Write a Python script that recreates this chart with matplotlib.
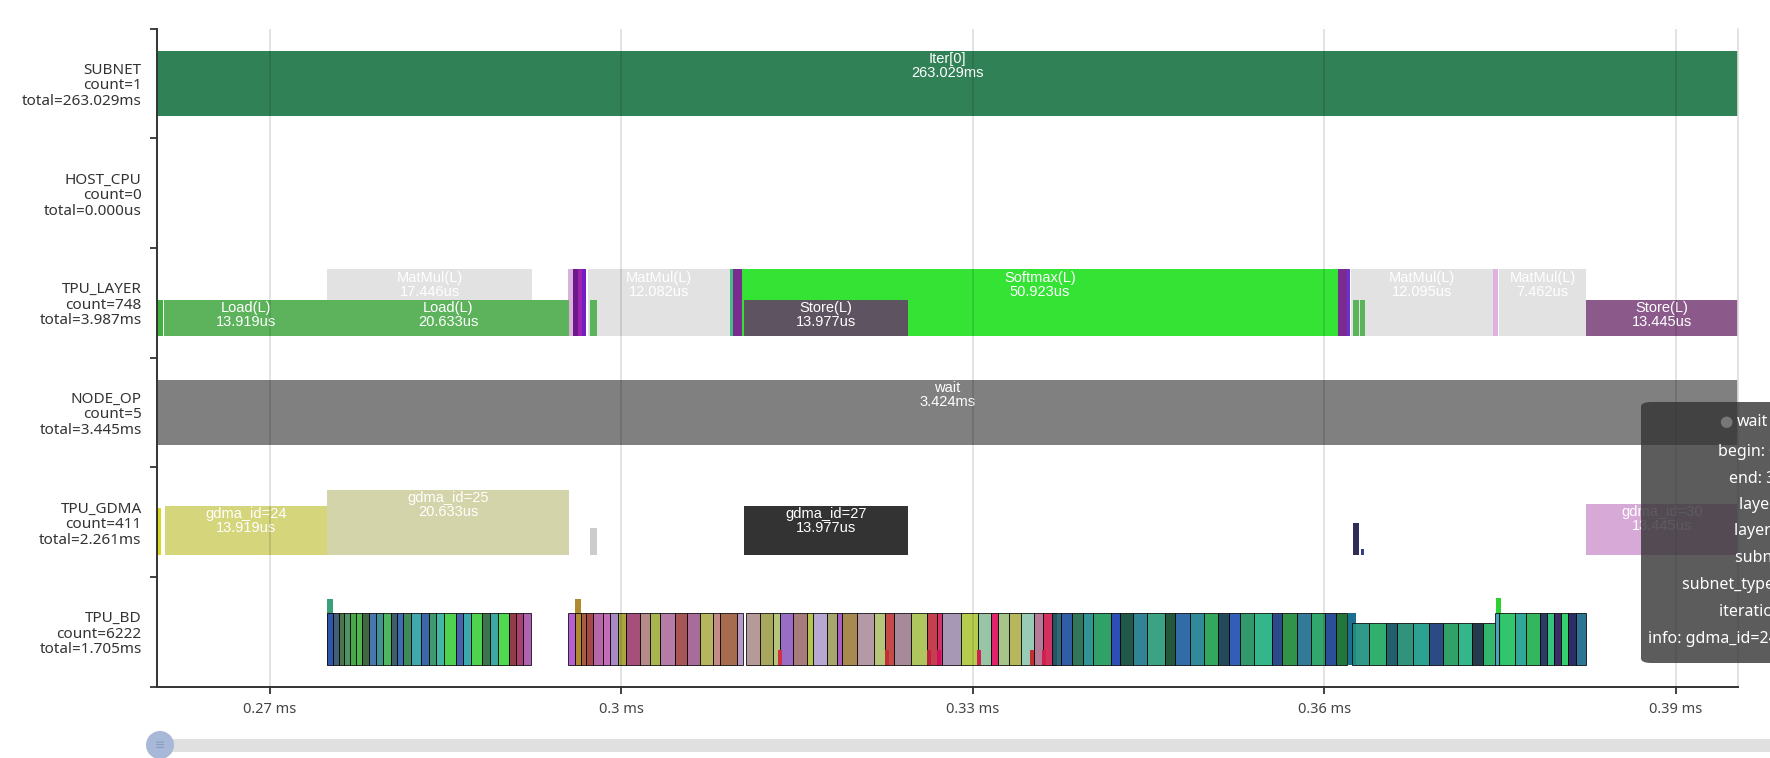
import matplotlib
matplotlib.use("Agg")
import matplotlib.pyplot as plt
from matplotlib.patches import Rectangle, FancyBboxPatch, Ellipse

# rows, top to bottom
rows = ["SUBNET", "HOST_CPU", "TPU_LAYER", "NODE_OP", "TPU_GDMA", "TPU_BD"]
row_counts = [1, 0, 748, 5, 411, 6222]
row_totals = ["263.029ms", "0.000us", "3.987ms", "3.445ms", "2.261ms", "1.705ms"]

x_ticks = [0.27, 0.30, 0.33, 0.36, 0.39]
x_tick_labels = ["0.27 ms", "0.3 ms", "0.33 ms", "0.36 ms", "0.39 ms"]
x_range = [0.26036, 0.39529]

# SUBNET (durations in ms)
subnet_start = [0.0]
subnet_dur_ms = [263.029]
subnet_name = ["Iter[0]"]

# NODE_OP
node_start = [0.12]
node_dur_ms = [3.424]
node_name = ["wait"]

# TPU_LAYER (durations in us), tall ones first then short ones
layer_start = [0.27491, 0.29543, 0.29590, 0.29630, 0.29665, 0.29716, 0.30930, 0.30950,
               0.31026, 0.36118, 0.36193, 0.36227, 0.37440, 0.37488,
               0.26000, 0.26099, 0.27491, 0.29735, 0.31045, 0.36246, 0.36300, 0.38230]
layer_dur_us = [17.446, 0.45, 0.35, 0.3, 0.35, 12.082, 0.2, 0.75,
                50.923, 0.75, 0.25, 12.095, 0.4, 7.462,
                0.9, 13.919, 20.633, 0.6, 13.977, 0.45, 0.5, 13.445]
layer_name = ["MatMul(L)", "", "", "", "", "MatMul(L)", "", "",
              "Softmax(L)", "", "", "MatMul(L)", "", "MatMul(L)",
              "", "Load(L)", "Load(L)", "", "Store(L)", "", "", "Store(L)"]
layer_color = ["#e2e2e2", "#dcb0dc", "#6a1b8a", "#a020b0", "#7020c0", "#e2e2e2", "#40c080", "#7b2a8f",
               "#35e335", "#7b2a8f", "#6a30d0", "#e2e2e2", "#e0b0e0", "#e2e2e2",
               "#40b040", "#5cb35c", "#5cb35c", "#5cb35c", "#5e5360", "#5cb35c", "#5cb35c", "#8b5a8b"]
layer_top = [0.195] * 14 + [0.47] * 8

# TPU_GDMA
gdma_start = [0.26030, 0.26102, 0.27491, 0.29735, 0.31045, 0.36246, 0.36310, 0.38232]
gdma_dur_us = [0.4, 13.919, 20.633, 0.55, 13.977, 0.5, 0.3, 13.445]
gdma_name = ["", "gdma_id=24", "gdma_id=25", "", "gdma_id=27", "", "", "gdma_id=30"]
gdma_color = ["#d8d820", "#d5d57c", "#d4d4aa", "#cccccc", "#333333", "#2e2e58", "#3a3a8a", "#d7a9d7"]
gdma_top = [0.37, 0.353, 0.207, 0.554, 0.35, 0.505, 0.74, 0.335]

# TPU_BD: clusters of stripes
bd_cluster_start = [0.27486, 0.29543, 0.31060, 0.33678, 0.36239, 0.37458]
bd_cluster_top = [0.33, 0.33, 0.33, 0.33, 0.42, 0.33]
bd_stripe_us = [
    [0.5, 0.5, 0.5, 0.5, 0.5, 0.5, 0.6, 0.6, 0.6, 0.7, 0.5, 0.5, 0.7, 0.8, 0.7, 0.6, 0.7, 1.0,
     0.6, 0.7, 0.9, 0.7, 0.7, 0.9, 0.6, 0.6, 0.7],
    [0.57, 0.57, 0.43, 0.57, 0.86, 0.57, 0.71, 0.71, 1.14, 0.86, 0.86, 1.28, 1.0, 1.14, 1.14,
     0.57, 1.43, 0.51],
    [1.23, 1.14, 0.57, 1.14, 1.14, 0.57, 1.14, 0.86, 0.43, 1.28, 1.43, 1.0, 0.71, 1.43, 1.43,
     0.86, 0.43, 1.57, 1.43, 1.14, 0.57, 1.0, 1.0, 1.14, 0.71, 0.86, 0.29],
    [0.76, 0.91, 0.91, 0.91, 1.52, 0.76, 1.07, 1.22, 1.52, 0.91, 1.22, 1.22, 1.22, 0.91, 0.91,
     1.22, 1.52, 0.91, 1.22, 1.22, 1.22, 0.91, 0.98],
    [1.37, 1.52, 0.91, 1.37, 1.37, 1.22, 1.22, 1.22, 0.91, 1.07],
    [0.30, 1.37, 0.91, 1.22, 0.61, 0.61, 0.61, 0.61, 0.61, 0.91],
]
bd_stripe_color = [
    ["#3050b0", "#34506a", "#3a6a3a", "#3f8a5a", "#3aa03a", "#40b040", "#2f5a2f", "#3a6aa8",
     "#2e8a8a", "#3fb050", "#2f4f5f", "#3060b0", "#2e7f4f", "#30a0a8", "#2a5aa0", "#309060",
     "#33b0a0", "#40d040", "#3555a8", "#2aa0a8", "#40d040", "#2a6a3a", "#30a0a0", "#40d840",
     "#8b2a3a", "#a03060", "#a855a8"],
    ["#b050d0", "#b08a30", "#a05030", "#a03838", "#b05aa0", "#c060b0", "#a080c0", "#a0a030",
     "#a04070", "#b08080", "#a0b040", "#b070a0", "#a04848", "#a06090", "#b0b050", "#c08080",
     "#a06040", "#b090c0"],
    ["#b09090", "#a0a050", "#b0c070", "#9060c0", "#a07070", "#b0c040", "#b0a0d0", "#a0a060",
     "#a050c0", "#a08040", "#b090a0", "#b0c070", "#c03a3a", "#a08090", "#a8c050", "#c03040",
     "#d02060", "#a090b0", "#b0c840", "#90c0a0", "#e01060", "#a0c080", "#b0b050", "#90c8b0",
     "#b07090", "#d02050", "#900030"],
    ["#1f5a6a", "#1f4fa0", "#1f6a4a", "#1f8a8a", "#1f9a5a", "#1a40b0", "#0f4a3a", "#1f7a8a",
     "#2a9a7a", "#0f4a2a", "#1f60a0", "#1f8090", "#20a050", "#0f3a4a", "#1f50b0", "#1f9060",
     "#20b080", "#1a3a80", "#1f8a3a", "#1f7090", "#20a060", "#1a4090", "#0f6a2a"],
    ["#1f9080", "#20a860", "#0f5060", "#1f8a70", "#1a9a8a", "#1a3a7a", "#1f9a5a", "#20b080",
     "#102a3a", "#20b060"],
    ["#4aa0d0", "#20c060", "#1fa090", "#20b050", "#1a2a5a", "#20c070", "#2a1a5a", "#20d060",
     "#1a1a5a", "#1a6a8a"],
]
bd_spike_start = [0.27486, 0.29603, 0.36200, 0.37462]
bd_spike_us = [0.5, 0.55, 0.7, 0.45]
bd_spike_color = ["#3aa07a", "#b08a30", "#1a7090", "#30d030"]
bd_spike_top = [0.2, 0.2, 0.33, 0.195]
bd_low_start = [0.31338, 0.32249, 0.32605, 0.32690, 0.33031, 0.33486, 0.33586]
bd_low_color = ["#d03040", "#c03030", "#c02040", "#d01060", "#d02050", "#c03030", "#d02050"]

BOTTOM = 0.8
LABEL_FONT = "Liberation Sans"

fig = plt.figure(figsize=(17.7, 7.58), dpi=100)
ax = fig.add_axes([0.0887, 0.0941, 0.8932, 0.868])


def draw_bar(row, start, dur_ms, top, color, name, extra, z):
    ax.add_patch(Rectangle((start, row + top), dur_ms, BOTTOM - top, facecolor=color,
                           edgecolor="none", zorder=z))
    if name:
        lo = max(start, x_range[0])
        hi = min(start + dur_ms, x_range[1])
        ax.text((lo + hi) / 2, row + top + 0.01, name + "\n" + extra, ha="center", va="top",
                color="white", fontsize=10.5, family=LABEL_FONT, linespacing=1.0,
                zorder=z + 0.005, clip_on=True)


z = 2.0
for s, d, n in zip(subnet_start, subnet_dur_ms, subnet_name):
    draw_bar(0, s, d, 0.2, "#318157", n, "%.3fms" % d, z)
    z += 0.01
for s, d, n in zip(node_start, node_dur_ms, node_name):
    draw_bar(3, s, d, 0.2, "#808080", n, "%.3fms" % d, z)
    z += 0.01
for s, d, n, c, t in zip(layer_start, layer_dur_us, layer_name, layer_color, layer_top):
    draw_bar(2, s, d / 1000, t, c, n, "%.3fus" % d, z)
    z += 0.01
for s, d, n, c, t in zip(gdma_start, gdma_dur_us, gdma_name, gdma_color, gdma_top):
    draw_bar(4, s, d / 1000, t, c, n, "%.3fus" % d, z)
    z += 0.01

# BD stripes
for cs, ct, durs, cols in zip(bd_cluster_start, bd_cluster_top, bd_stripe_us, bd_stripe_color):
    s = cs
    for d, c in zip(durs, cols):
        ax.add_patch(Rectangle((s, 5 + ct), d / 1000, BOTTOM - ct, facecolor=c, alpha=0.92,
                               edgecolor=(0, 0, 0, 0.12), linewidth=0.6, zorder=2))
        s += d / 1000
for s, d, c, t in zip(bd_spike_start, bd_spike_us, bd_spike_color, bd_spike_top):
    ax.add_patch(Rectangle((s, 5 + t), d / 1000, BOTTOM - t, facecolor=c, zorder=1.9))
for s, c in zip(bd_low_start, bd_low_color):
    ax.add_patch(Rectangle((s, 5 + 0.67), 0.00035, BOTTOM - 0.67, facecolor=c, zorder=2.1))

# gridlines on top, semi transparent
for xt in x_ticks:
    ax.axvline(xt, color="black", alpha=0.13, lw=1.2, zorder=5)

ax.set_xlim(x_range)
ax.set_ylim(len(rows), 0)
ax.set_xticks(x_ticks)
ax.set_xticklabels(x_tick_labels, family="Noto Sans", fontsize=10.5, color="#444444")
ax.set_yticks([i + 0.5 for i in range(len(rows))])
ax.set_yticklabels(["%s\ncount=%d\ntotal=%s" % (r, c, t) for r, c, t in zip(rows, row_counts, row_totals)],
                   family="Noto Sans", fontsize=11, color="#333333", linespacing=1.05)
ax.set_yticks(range(len(rows) + 1), minor=True)
ax.tick_params(axis="y", which="major", length=0, pad=11)
ax.tick_params(axis="y", which="minor", length=5, width=1.3, color="#333333")
ax.tick_params(axis="x", length=5, width=1.3, color="#333333", pad=6)
for side in ["left", "bottom"]:
    ax.spines[side].set_color("#333333")
    ax.spines[side].set_linewidth(1.4)
ax.spines["top"].set_visible(False)
ax.spines["right"].set_color("#dddddd")
ax.spines["right"].set_linewidth(1.2)

# slider at the bottom
W, H = 1770.0, 758.0
fig.add_artist(Rectangle((160 / W, 1 - 752 / H), (W - 160) / W, 13 / H, transform=fig.transFigure,
                         facecolor="#e0e0e0", edgecolor="none"))
fig.add_artist(Ellipse((160 / W, 1 - 745 / H), 28 / W, 28 / H, transform=fig.transFigure,
                       facecolor="#a8b8d8", edgecolor="none"))
fig.text(160 / W, 1 - 745 / H, "≡", ha="center", va="center", color="#8a9ab8", fontsize=9)

# tooltip (cut off at the right edge, as in the reference)
fig.add_artist(FancyBboxPatch((1641 / W, 1 - 663 / H), 200 / W, 261 / H, transform=fig.transFigure,
                              boxstyle="round,pad=0,rounding_size=0.006", facecolor="#333333",
                              alpha=0.8, edgecolor="none"))
tip_lines = ["wait", "begin: 0.268ms", "end: 3.692ms", "layer_id: -", "layer_type: -",
             "subnet_id: 0", "subnet_type: TPU", "iteration: 0", "info: gdma_id=24"]
tip_x = [1737, 1718, 1729, 1739, 1734, 1735, 1682, 1719, 1648]
tip_y = [422, 452, 479, 505, 531, 558, 585, 612, 639]
fig.text(1726 / W, 1 - 422 / H, "●", ha="center", va="center", color="#777777", fontsize=11)
for txt, tx, ty in zip(tip_lines, tip_x, tip_y):
    fig.text(tx / W, 1 - ty / H, txt, ha="left", va="center", color="white",
             family="Noto Sans", fontsize=11.5)

fig.savefig("out.png", dpi=100, facecolor="white")
